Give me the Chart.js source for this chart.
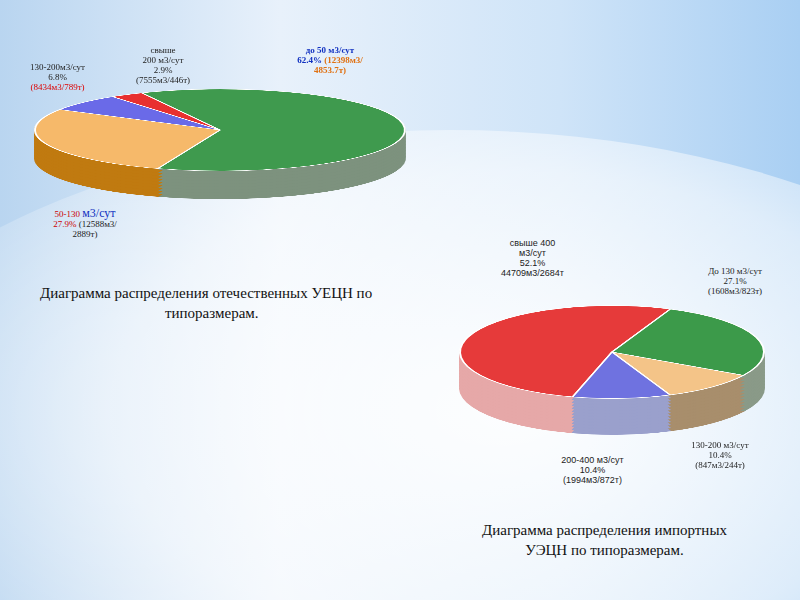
<!DOCTYPE html><html><head><meta charset="utf-8">
<script src="https://cdn.jsdelivr.net/npm/chart.js@4/dist/chart.umd.min.js"></script>
<style>
body{margin:0;width:800px;height:600px;overflow:hidden;position:relative;font-family:"Liberation Serif",serif;
background:linear-gradient(90deg,#b9d5f0 0%,#e8f1fb 35%,#cfe4f8 70%,#a9cff3 100%);}
.sw{position:absolute;left:-200px;top:130px;width:1300px;height:700px;border-radius:50%;
background:radial-gradient(ellipse at 55% 40%,rgba(255,255,255,0.95) 0%,rgba(255,255,255,0.6) 40%,rgba(255,255,255,0) 70%);}
canvas{position:absolute;}
.t{position:absolute;text-align:center;font-size:9px;line-height:10px;}
.cap{position:absolute;font-size:15px;line-height:20px;color:#111;}
</style></head><body>
<div class="sw"></div>
<div id="holder"></div>
<div class="t" style="left:10px;top:62px;width:95px;color:#222">130-200м3/сут<br>6.8%<br><span style="color:#d00">(8434м3/789т)</span></div>
<div class="t" style="left:118px;top:45px;width:90px;color:#222">свыше<br>200 м3/сут<br>2.9%<br>(7555м3/446т)</div>
<div class="t" style="left:275px;top:45px;width:110px;color:#1030c0;font-weight:bold">до 50 м3/сут<br>62.4% <span style="color:#e07010">(12398м3/<br>4853.7т)</span></div>
<div class="t" style="left:35px;top:208px;width:100px;color:#222"><span style="color:#c00">50-130</span> <span style="color:#1030c0;font-size:12px">м3/сут</span><br><span style="color:#c00">27.9%</span> (12588м3/<br>2889т)</div>
<div class="t" style="left:490px;top:238px;width:85px;color:#222;font-family:'Liberation Sans'">свыше 400<br>м3/сут<br>52.1%<br>44709м3/2684т</div>
<div class="t" style="left:690px;top:266px;width:90px;color:#222">До 130 м3/сут<br>27.1%<br>(1608м3/823т)</div>
<div class="t" style="left:545px;top:455px;width:95px;color:#222;font-family:'Liberation Sans'">200-400 м3/сут<br>10.4%<br>(1994м3/872т)</div>
<div class="t" style="left:680px;top:440px;width:80px;color:#222">130-200 м3/сут<br>10.4%<br>(847м3/244т)</div>
<div class="cap" style="left:40px;top:283px;">Диаграмма распределения отечественных УЕЦН по<br><span style="padding-left:125px">типоразмерам.</span></div>
<div class="cap" style="left:482px;top:520px;text-align:center;">Диаграмма распределения импортных<br>УЭЦН по типоразмерам.</div>
<script>
const catsA=['до 50 м3/сут','50-130 м3/сут','130-200 м3/сут','свыше 200 м3/сут'];
const valsA=[62.4,27.9,6.8,2.9];
const topA=['#3f9a4e','#f6b96a','#6a6ae8','#e83030'];
const sideA=['#7d927e','#c07a10','#101080','#a01010'];
const catsB=['свыше 400 м3/сут','До 130 м3/сут','130-200 м3/сут','200-400 м3/сут'];
const valsB=[52.1,27.1,10.4,10.4];
const topB=['#e63a3a','#3c9a4a','#f4c488','#6f72e0'];
const sideB=['#e6a8a8','#8a9a88','#a88e6c','#9aa0cc'];
const holder=document.getElementById('holder');
function pie(cx,cy,r,ry,labels,data,colors,rot,border){
const c=document.createElement('canvas');c.width=2*r;c.height=2*r;holder.appendChild(c);
c.style.left=(cx-r)+'px';c.style.top=(cy-r)+'px';c.style.transform='scaleY('+(ry/r)+')';
new Chart(c,{type:'pie',data:{labels,datasets:[{data,backgroundColor:colors,borderColor:border,borderWidth:2}]},
options:{responsive:false,animation:false,rotation:rot,layout:{padding:4},plugins:{legend:{display:false},tooltip:{enabled:false}}}});}
for(let d=28;d>0;d-=3) pie(220,130+d,190,42,catsA,valsA,sideA,-25,sideA);
pie(220,130,190,42,catsA,valsA,topA,-25,'#ffffff');
for(let d=36;d>0;d-=3) pie(612,352+d,157,48,catsB,valsB,sideB,195,sideB);
pie(612,352,157,48,catsB,valsB,topB,195,'#ffffff');
</script></body></html>
